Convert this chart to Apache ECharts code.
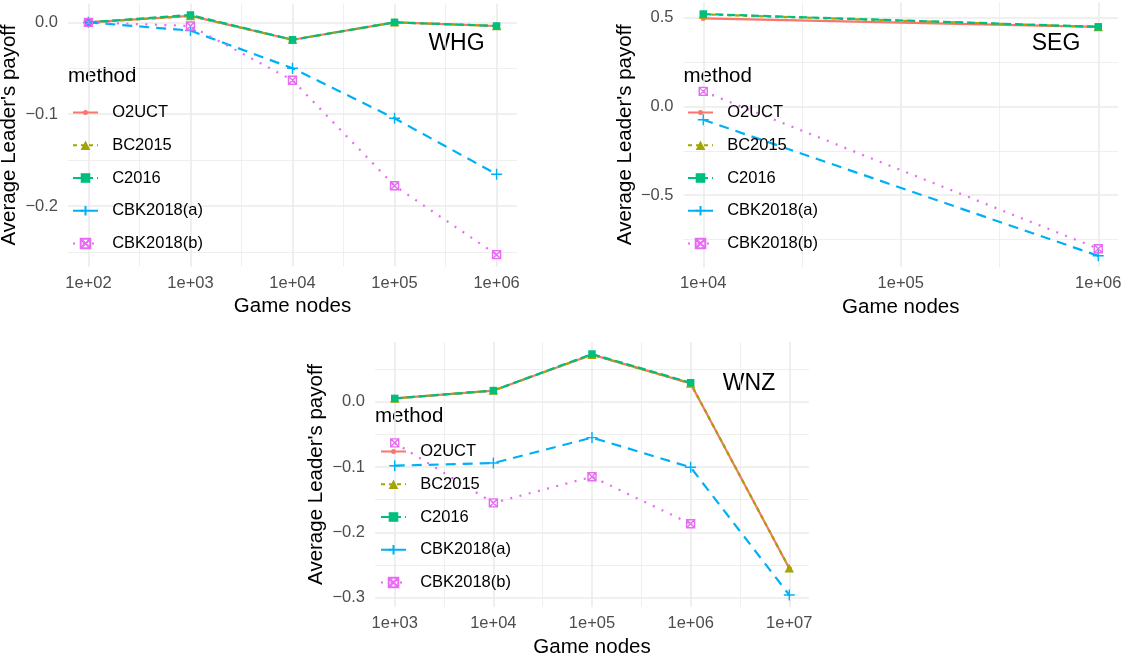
<!DOCTYPE html>
<html>
<head>
<meta charset="utf-8">
<script src="https://cdn.jsdelivr.net/npm/echarts@6/dist/echarts.min.js"></script>
<style>
  html, body { margin: 0; padding: 0; background: #fff; }
  #chart { width: 1140px; height: 654px; }
</style>
</head>
<body>
<div id="chart"></div>
<script>
// methods, in legend order
const methods = ['O2UCT', 'BC2015', 'C2016', 'CBK2018(a)', 'CBK2018(b)'];

// WHG panel
const whgNodes = [1e2, 1e3, 1e4, 1e5, 1e6];
const whgO2UCT = [0.000, 0.007, -0.019, 0.000, -0.004];
const whgBC2015 = [0.000, 0.007, -0.019, 0.000, -0.004];
const whgC2016 = [0.000, 0.008, -0.019, 0.000, -0.004];
const whgCBKa = [0.000, -0.009, -0.050, -0.1045, -0.1655];
const whgCBKb = [0.000, -0.004, -0.063, -0.178, -0.253];
const whgXTicks = [1e2, 1e3, 1e4, 1e5, 1e6];
const whgXMinor = [316.23, 3162.3, 31622.8, 316227.8];
const whgYTicks = [0, -0.1, -0.2];
const whgYMinor = [-0.05, -0.15, -0.25];

// SEG panel
const segNodes = [1e4, 1e6];
const segO2UCT = [0.496, 0.449];
const segBC2015 = [0.519, 0.448];
const segC2016 = [0.521, 0.449];
const segCBKa = [-0.075, -0.842];
const segCBKb = [0.085, -0.802];
const segXTicks = [1e4, 1e5, 1e6];
const segXMinor = [31622.8, 316227.8];
const segYTicks = [0.5, 0, -0.5];
const segYMinor = [0.25, -0.25, -0.75];

// WNZ panel
const wnzNodes = [1e3, 1e4, 1e5, 1e6, 1e7];
const wnzO2UCT = [0.005, 0.017, 0.072, 0.028, -0.255];
const wnzBC2015 = [0.005, 0.017, 0.072, 0.028, -0.255];
const wnzC2016 = [0.005, 0.017, 0.073, 0.029, null];
const wnzCBKa = [-0.098, -0.094, -0.055, -0.1005, -0.296];
const wnzCBKb = [-0.063, -0.155, -0.115, -0.187, null];
const wnzXTicks = [1e3, 1e4, 1e5, 1e6, 1e7];
const wnzXMinor = [3162.3, 31622.8, 316227.8, 3162277.7];
const wnzYTicks = [0, -0.1, -0.2, -0.3];
const wnzYMinor = [0.05, -0.05, -0.15, -0.25];

// styles
const FONT = 'Liberation Sans';
const colors = ['#F8766D', '#A3A500', '#00BF7D', '#00B0F6', '#E76BF3'];
const dashes = ['solid', [4, 4], [8, 4], [10, 7], [2, 7.5]];
const symbols = ['circle', 'triangle', 'rect', 'path://M6,0 L6,12 M0,6 L12,6', 'path://M0,0 L10,0 L10,10 L0,10 Z M0,0 L10,10 M10,0 L0,10'];
const symbolSizes = [5, [9.5, 8.5], 7.5, 11, 8];
const hollow = [false, false, false, true, true];
const o2uctIcon = 'path://M0,1.6 H25 V3.4 H0 Z M10,2.5 A2.5,2.5 0 1,1 15,2.5 A2.5,2.5 0 1,1 10,2.5 Z';

const panels = [
  {
    label: 'WHG', nodes: whgNodes, values: [whgO2UCT, whgBC2015, whgC2016, whgCBKa, whgCBKb],
    xTicks: whgXTicks, xMinor: whgXMinor, yTicks: whgYTicks, yMinor: whgYMinor, yStep: 0.1,
    grid: { left: 68, top: 3.5, width: 449, height: 263.1 }, xLog: [1.8, 6.2], y: [-0.266, 0.0205],
    tag: [456.5, 44], method: [68, 76.8], legend: [72, 104]
  },
  {
    label: 'SEG', nodes: segNodes, values: [segO2UCT, segBC2015, segC2016, segCBKa, segCBKb],
    xTicks: segXTicks, xMinor: segXMinor, yTicks: segYTicks, yMinor: segYMinor, yStep: 0.5,
    grid: { left: 683.5, top: 2.5, width: 434.5, height: 264.5 }, xLog: [3.9, 6.1], y: [-0.905, 0.586],
    tag: [1056, 44], method: [683.5, 76.8], legend: [687, 104]
  },
  {
    label: 'WNZ', nodes: wnzNodes, values: [wnzO2UCT, wnzBC2015, wnzC2016, wnzCBKa, wnzCBKb],
    xTicks: wnzXTicks, xMinor: wnzXMinor, yTicks: wnzYTicks, yMinor: wnzYMinor, yStep: 0.1,
    grid: { left: 375, top: 342, width: 434, height: 265 }, xLog: [2.8, 7.2], y: [-0.3144, 0.0914],
    tag: [749, 383.4], method: [375, 416], legend: [380, 443]
  }
];

const near = (a, b) => Math.abs(a - b) <= 1e-6 * Math.max(1, Math.abs(b));

const fmtX = (v, ticks) => {
  if (!ticks.some(t => near(v, t))) return '';
  const e = Math.round(Math.log10(v));
  return '1e+' + String(e).padStart(2, '0');
};

const fmtY = (v, ticks) => {
  if (!ticks.some(t => Math.abs(v - t) < 1e-9)) return '';
  return v.toFixed(1).replace('-', '\u2212');
};

const gridLines = p => {
  const major = { color: '#EBEBEB', width: 1.6, type: 'solid' };
  const minor = { color: '#EBEBEB', width: 0.8, type: 'solid' };
  return [].concat(
    p.yMinor.map(v => ({ yAxis: v, lineStyle: minor })),
    p.xMinor.map(v => ({ xAxis: v, lineStyle: minor })),
    p.yTicks.map(v => ({ yAxis: v, lineStyle: major })),
    p.xTicks.map(v => ({ xAxis: v, lineStyle: major }))
  );
};

const series = [];
panels.forEach((p, k) => {
  methods.forEach((m, i) => {
    const s = {
      name: m,
      type: 'line',
      xAxisIndex: k,
      yAxisIndex: k,
      data: p.nodes.map((n, j) => [n, p.values[i][j]]).filter(d => d[1] != null),
      symbol: symbols[i],
      symbolSize: symbolSizes[i],
      showSymbol: true,
      lineStyle: { color: colors[i], width: 2.2, type: dashes[i] },
      itemStyle: hollow[i]
        ? { color: 'none', borderColor: colors[i], borderWidth: 1.4 }
        : { color: colors[i], borderWidth: 0 },
      emphasis: { disabled: true },
      silent: true,
      animation: false,
      z: 2
    };
    if (i === 0) {
      s.markLine = {
        silent: true,
        symbol: ['none', 'none'],
        label: { show: false },
        animation: false,
        z: 1,
        data: gridLines(p)
      };
    }
    series.push(s);
  });
});

const graphic = [];
panels.forEach(p => {
  graphic.push({
    type: 'text', x: p.tag[0], y: p.tag[1], silent: true,
    style: { text: p.label, font: '23px "' + FONT + '"', fill: '#000', align: 'center', verticalAlign: 'middle', textAlign: 'center', textVerticalAlign: 'middle' }
  });
  graphic.push({
    type: 'text', x: p.method[0], y: p.method[1], silent: true,
    style: { text: 'method', font: '20.5px "' + FONT + '"', fill: '#000', align: 'left', verticalAlign: 'middle', textAlign: 'left', textVerticalAlign: 'middle' }
  });
});

const chart = echarts.init(document.getElementById('chart'), null, { renderer: 'canvas' });

chart.setOption({
  animation: false,
  backgroundColor: '#ffffff',
  textStyle: { fontFamily: FONT },
  grid: panels.map(p => Object.assign({ containLabel: false, outerBoundsMode: 'none' }, p.grid)),
  xAxis: panels.map((p, k) => ({
    type: 'log',
    logBase: 10,
    gridIndex: k,
    min: Math.pow(10, p.xLog[0]),
    max: Math.pow(10, p.xLog[1]),
    name: 'Game nodes',
    nameLocation: 'middle',
    nameGap: 29.6,
    nameTextStyle: { fontFamily: FONT, fontSize: 20.5, color: '#000' },
    axisLine: { show: false },
    axisTick: { show: false },
    splitLine: { show: false },
    minorSplitLine: { show: false },
    axisLabel: {
      margin: 8,
      fontFamily: FONT,
      fontSize: 16.5,
      color: '#4D4D4D',
      formatter: v => fmtX(v, p.xTicks)
    }
  })),
  yAxis: panels.map((p, k) => ({
    type: 'value',
    gridIndex: k,
    min: p.y[0],
    max: p.y[1],
    minInterval: p.yStep,
    maxInterval: p.yStep,
    name: "Average Leader's payoff",
    nameLocation: 'middle',
    nameGap: 48,
    nameRotate: 90,
    nameTextStyle: { fontFamily: FONT, fontSize: 20.5, color: '#000' },
    axisLine: { show: false },
    axisTick: { show: false },
    splitLine: { show: false },
    minorSplitLine: { show: false },
    axisLabel: {
      margin: 10,
      fontFamily: FONT,
      fontSize: 16.5,
      color: '#4D4D4D',
      formatter: v => fmtY(v, p.yTicks)
    }
  })),
  legend: panels.map(p => ({
    orient: 'vertical',
    left: p.legend[0],
    top: p.legend[1],
    padding: 0,
    itemWidth: 25,
    itemHeight: 12,
    itemGap: 15.75,
    selectedMode: false,
    formatter: '  {name}',
    textStyle: { fontFamily: FONT, fontSize: 16.5, color: '#000' },
    data: methods.map((m, i) => (i === 0 ? { name: m, icon: o2uctIcon } : { name: m }))
  })),
  graphic: graphic,
  series: series
});
</script>
</body>
</html>
